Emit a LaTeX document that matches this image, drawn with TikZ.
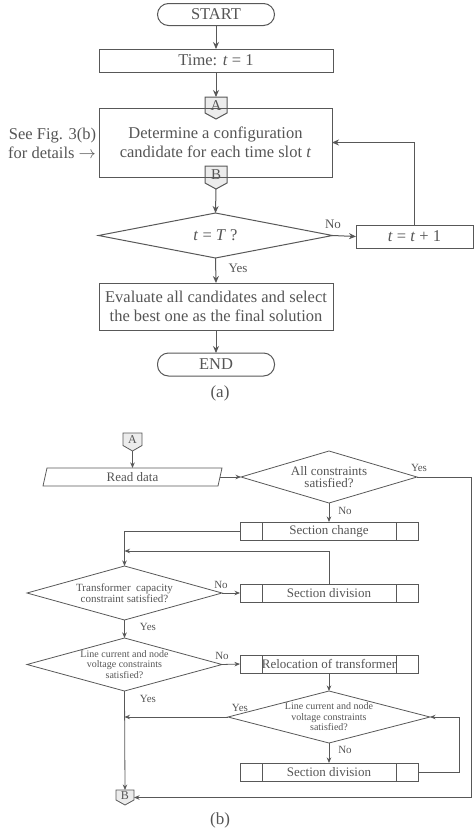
\documentclass[tikz,border=0pt]{standalone}
\usepackage{fontspec}
\setmainfont{Liberation Serif}
\usetikzlibrary{arrows.meta,calc,backgrounds}
\definecolor{lc}{RGB}{88,88,88}
\definecolor{tc}{RGB}{85,85,85}
\definecolor{cf}{RGB}{236,236,236}
\newcommand{\fs}[2]{\fontsize{#1}{#2}\selectfont}
\newcommand\drawdia[2]{\draw[#2] (#1.north) -- (#1.east) -- (#1.south) -- (#1.west) -- cycle;}
\newcommand\drawproc[1]{\draw[lnB] ([xshift=22pt]#1.north west) -- ([xshift=22pt]#1.south west) ([xshift=-22pt]#1.north east) -- ([xshift=-22pt]#1.south east);}
\newcommand\drawconn[3]{\filldraw[#3] (#1.north west) -- (#1.north east) -- ([yshift=#2]#1.south east) -- (#1.south) -- ([yshift=#2]#1.south west) -- cycle;}
\tikzset{
  base/.style={inner sep=0pt, outer sep=0pt, text=tc, align=center},
  lnA/.style={draw=lc, line width=1pt},
  lnB/.style={draw=lc, line width=0.8pt},
  arrA/.style={lnA, -{Stealth[length=7pt,width=6pt]}},
  arrB/.style={lnB, -{Stealth[length=5.5pt,width=4.5pt]}},
  boxA/.style={base, lnA, rectangle, font=\fs{16.5}{19.5}},
  termA/.style={boxA, rounded corners=11pt},
  plainA/.style={base, rectangle, font=\fs{16.5}{19.5}},
  procB/.style={base, lnB, rectangle, minimum width=178pt, minimum height=18pt, font=\fs{13}{14}},
  plainB/.style={base, rectangle},
  connA/.style={base, rectangle, minimum width=22pt, font=\fs{15}{16}},
  connB/.style={base, rectangle, font=\fs{12}{13}},
  cfill/.style={lnA, fill=cf},
  cfillB/.style={lnB, fill=cf},
  labA/.style={base, font=\fs{13}{14}},
  labB/.style={base, font=\fs{11}{12}},
}
\begin{document}
\begin{tikzpicture}[x=1pt,y=-1pt]
\useasboundingbox (0,0) rectangle (474,830);
% ---------------- (a) ----------------
\node[termA, minimum width=117pt, minimum height=22pt] (start) at (216,14.5) {START};
\node[boxA, minimum width=234pt, minimum height=23pt] (time) at (216,60.5) {Time: \textit{t} = 1};
\node[boxA, minimum width=233pt, minimum height=69pt] (det) at (215.5,142.5) {Determine a configuration\\candidate for each time slot \textit{t}};
\node[connA, minimum height=22pt] (A1) at (216,108) {\smash{\raisebox{-2pt}{A}}};
\node[connA, minimum height=23pt] (B1) at (216,177.5) {\smash{\raisebox{-2pt}{B}}};
\begin{scope}[on background layer]
  \drawconn{A1}{6pt}{cfill}
  \drawconn{B1}{6pt}{cfill}
\end{scope}
\node[base, anchor=east, align=right, font=\fs{16.5}{19.5}] (see) at (96,143.5) {See Fig. 3(b)\\for details $\rightarrow$};
\node[plainA, minimum width=234pt, minimum height=45pt] (dA) at (215.5,235.5) {\textit{t} = \textit{T} ?};
\drawdia{dA}{lnA}
\node[boxA, minimum width=117pt, minimum height=23pt] (inc) at (414.5,236.5) {\textit{t} = \textit{t} + 1};
\node[boxA, minimum width=234pt, minimum height=47pt] (eval) at (216,306.5) {Evaluate all candidates and select\\the best one as the final solution};
\node[termA, minimum width=117pt, minimum height=23pt] (end) at (216,364.5) {END};
\node[plainA, font=\fs{17}{19}] (capa) at (220,393) {(a)};
\node[labA] (noA) at (333,224) {No};
\node[labA] (yesA) at (238,268) {Yes};
\draw[arrA] (start) -- (time);
\draw[arrA] (time.south) -- (A1.north);
\draw[arrA] (B1.south) -- (dA.north);
\draw[arrA] (dA.east) -- (inc.west);
\draw[arrA] (inc.north) |- (det.east);
\draw[arrA] (dA.south) -- (eval.north);
\draw[arrA] (eval) -- (end);
% ---------------- (b) ----------------
\node[connB, minimum width=19pt, minimum height=18pt] (A2) at (132.5,442) {\smash{\raisebox{-1.5pt}{A}}};
\node[connB, minimum width=18pt, minimum height=15pt] (B2) at (125,797.5) {\smash{\raisebox{-1.5pt}{B}}};
\begin{scope}[on background layer]
  \drawconn{A2}{5.5pt}{cfillB}
  \drawconn{B2}{5pt}{cfillB}
\end{scope}
\node[plainB, minimum width=179pt, minimum height=18pt, font=\fs{13}{14}] (read) at (132.5,477) {Read data};
\draw[lnB] ([xshift=4pt]read.north west) -- (read.north east) -- ([xshift=-4pt]read.south east) -- (read.south west) -- cycle;
\node[plainB, minimum width=176pt, minimum height=52pt, font=\fs{13}{12}] (d1) at (329,477) {All constraints\\satisfied?};
\drawdia{d1}{lnB}
\node[procB] (sc) at (329,531) {Section change};
\drawproc{sc}
\node[plainB, minimum width=195pt, minimum height=54pt, font=\fs{11}{11}] (d2) at (124.5,593) {Transformer\ \ capacity\\constraint satisfied?};
\drawdia{d2}{lnB}
\node[procB] (sd1) at (329,593) {Section division};
\drawproc{sd1}
\node[plainB, minimum width=195pt, minimum height=53pt, font=\fs{10}{10.5}] (d3) at (124.5,664.5) {Line current and node\\voltage constraints\\satisfied?};
\drawdia{d3}{lnB}
\node[procB] (rel) at (329,664) {Relocation of transformer};
\drawproc{rel}
\node[plainB, minimum width=202pt, minimum height=52pt, font=\fs{10}{10.5}] (d4) at (329,717) {Line current and node\\voltage constraints\\satisfied?};
\drawdia{d4}{lnB}
\node[procB] (sd2) at (329,772) {Section division};
\drawproc{sd2}
\node[plainA, font=\fs{17}{19}] (capb) at (220,820) {(b)};
\node[labB] (yes1) at (419,468) {Yes};
\node[labB] (no1) at (345,511) {No};
\node[labB] (no2) at (221,585) {No};
\node[labB] (yes2) at (148,627) {Yes};
\node[labB] (no3) at (222,656) {No};
\node[labB] (yes3) at (148,699) {Yes};
\node[labB] (yes4) at (240,708) {Yes};
\node[labB] (no4) at (345,750) {No};
\coordinate (yr) at (471,797.5);
\coordinate (lp1) at (124.5,551);
\draw[arrB] (A2.south) -- (read.north);
\draw[arrB] ([xshift=-2pt]read.east) -- (d1.west);
\draw[arrB] (d1.east) -| (yr) -- (B2.east);
\draw[arrB] (d1.south) -- (sc.north);
\draw[arrB] (sc.west) -| (d2.north);
\draw[arrB] (sd1.north) |- (lp1);
\draw[arrB] (d2.east) -- (sd1.west);
\draw[arrB] (d2.south) -- (d3.north);
\draw[arrB] (d3.east) -- (rel.west);
\draw[arrB] (rel.south) -- (d4.north);
\draw[arrB] (d4.west) -- (d3.south |- d4.west);
\draw[arrB] (d3.south) -- (B2.north);
\draw[arrB] (d4.south) -- (sd2.north);
\draw[arrB] (sd2.east) -- ++(41,0) |- (d4.east);
\end{tikzpicture}
\end{document}
